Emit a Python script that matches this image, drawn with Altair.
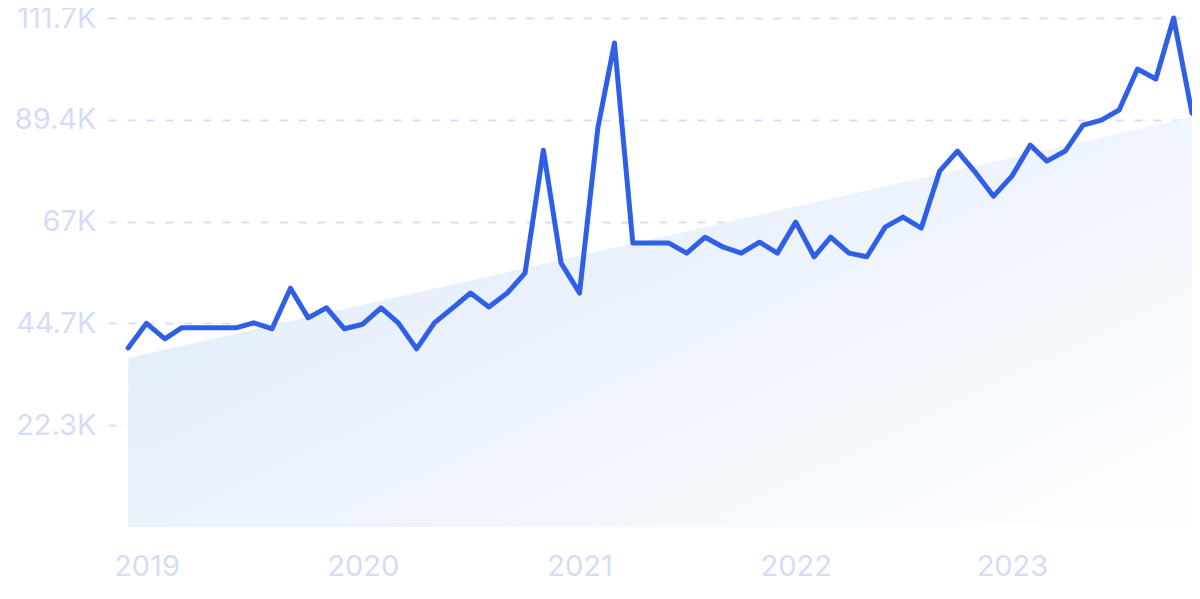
import altair as alt
import pandas as pd

# Monthly values, Dec 2018 .. Nov 2023
months = [d.strftime("%Y-%m-%dT00:00:00") for d in pd.date_range("2018-12-01", periods=60, freq="MS")]
values = [39300, 44700, 41300, 43700, 43700, 43700, 43700, 44800, 43500, 52400,
          45900, 48100, 43500, 44500, 48100, 44800, 39100, 44800, 48100, 51350,
          48300, 51350, 55700, 82700, 57900, 51350, 87600, 106200, 62300, 62300,
          62300, 60100, 63600, 61400, 60100, 62500, 60100, 66900, 59300, 63600,
          60100, 59300, 65800, 68000, 65600, 78100, 82500, 77700, 72600, 77000,
          83800, 80300, 82500, 88200, 89300, 91500, 100500, 98300, 111700, 90800]

# Trend line end points
trend_months = ["2018-12-01T00:00:00", "2023-11-01T00:00:00"]
trend_values = [37100, 90000]

y_ticks = [22340, 44680, 67020, 89360, 111700]
year_ticks = [2019, 2020, 2021, 2022, 2023]

df = pd.DataFrame({"date": months, "value": values})
trend = pd.DataFrame({"date": trend_months, "value": trend_values})

label_color = "#d3ddf5"
font = "Inter"

x_scale = alt.Scale(domain=[alt.DateTime(year=2018, month=10, date=28),
                            alt.DateTime(year=2023, month=11, date=1)])
y_scale = alt.Scale(domain=[0, 111700], nice=False, zero=True)

x_enc = alt.X("date:T", scale=x_scale, title=None,
              axis=alt.Axis(values=[alt.DateTime(year=y, month=1, date=1) for y in year_ticks],
                            format="%Y", grid=False, domain=False, ticks=False,
                            labelFontSize=29, labelColor=label_color, labelFont=font,
                            labelPadding=25, labelAlign="center"))
y_enc = alt.Y("value:Q", scale=y_scale, title=None,
              axis=alt.Axis(values=y_ticks,
                            labelExpr="replace(format(datum.value/1000, '.1f') + 'K', '.0K', 'K')",
                            grid=True, gridColor="#d2e1fb", gridDash=[8, 11], gridWidth=1.8,
                            domain=False, ticks=False,
                            labelFontSize=29, labelColor=label_color, labelFont=font,
                            labelPadding=12))

area = alt.Chart(trend).mark_area(
    color=alt.Gradient(gradient="linear",
                       stops=[alt.GradientStop(color="#dde9fa", offset=0),
                              alt.GradientStop(color="#fdfeff", offset=1)],
                       x1=0, y1=0.1, x2=1, y2=0.9),
    opacity=1
).encode(x=x_enc, y=y_enc)

line = alt.Chart(df).mark_line(color="#2e5fe6", strokeWidth=5, strokeJoin="round", strokeCap="round").encode(
    x=alt.X("date:T", scale=x_scale),
    y=alt.Y("value:Q", scale=y_scale)
)

chart = alt.layer(area, line).properties(
    width=1084, height=509,
    background="white",
    autosize=alt.AutoSizeParams(type="none"),
    padding={"left": 100, "top": 10, "right": 0, "bottom": 64}
).configure_view(strokeWidth=0, stroke="transparent")

chart.save("out.html", embed_options={"renderer": "svg", "actions": False})
